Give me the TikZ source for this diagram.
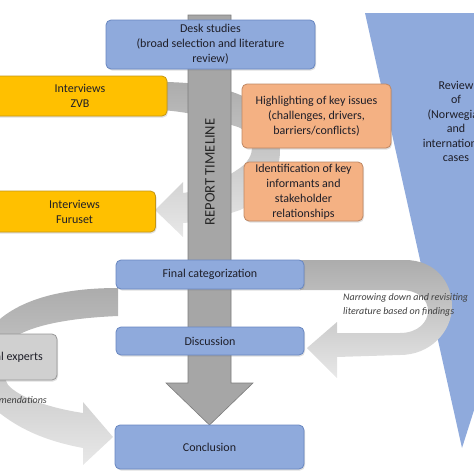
\documentclass[tikz,border=0pt]{standalone}
\usepackage{fontspec}
\setmainfont{Carlito}
\usetikzlibrary{shadows}
\definecolor{methodfill}{RGB}{143,170,220}
\definecolor{methodline}{RGB}{104,134,192}
\definecolor{interfill}{RGB}{255,192,0}
\definecolor{interline}{RGB}{196,150,20}
\definecolor{issuefill}{RGB}{244,177,131}
\definecolor{issueline}{RGB}{190,135,100}
\definecolor{expertfill}{RGB}{208,208,208}
\definecolor{expertline}{RGB}{150,150,150}
\definecolor{barfill}{RGB}{166,166,166}
\definecolor{barline}{RGB}{125,125,125}
\definecolor{textdark}{RGB}{30,30,40}
\tikzstyle{panel}    = [rectangle, rounded corners=5pt, line width=0.8pt, align=center, inner sep=1pt, text=textdark, font=\fontsize{12}{15}\selectfont, drop shadow={opacity=0.25, shadow xshift=1pt, shadow yshift=-1.5pt}]
\tikzstyle{method}   = [panel, draw=methodline, fill=methodfill]
\tikzstyle{interview} = [panel, draw=interline, fill=interfill]
\tikzstyle{issue}    = [panel, draw=issueline, fill=issuefill]
\tikzstyle{expert}   = [panel, draw=expertline, fill=expertfill]
\tikzstyle{loopband} = [draw=none, top color=gray!65, bottom color=gray!18]
\tikzstyle{remark}   = [font=\fontsize{10}{13.5}\selectfont\itshape, text=black!75, inner sep=0pt, align=left]

\begin{document}
\begin{tikzpicture}[x=1pt, y=-1pt]
    \useasboundingbox (0,0) rectangle (474,474);
    \clip (0,0) rectangle (474,474);

    % funnel of reviewed cases
    \fill[methodfill] (365,13) -- (600,13) -- (462,448) -- cycle;
    \node[text=textdark, align=center, font=\fontsize{12}{14.5}\selectfont] (cases) at (456,121.5)
        {Review\\of\\(Norwegian\\and\\international)\\cases};

    % feedback loops
    \path[loopband] (300,260) -- (405,260) .. controls (435,260) and (452,282) .. (452,306)
        .. controls (452,332) and (430,355) .. (400,355) -- (337,357) -- (337,378) -- (307,348)
        -- (337,322) -- (337,333) -- (400,333) .. controls (418,333) and (428,322) .. (428,311)
        .. controls (428,299) and (418,290) .. (400,290) -- (300,290) -- cycle;
    \path[loopband] (118,288) .. controls (60,288) and (10,300) .. (-15,335)
        .. controls (-35,365) and (-30,390) .. (-15,400) .. controls (10,425) and (40,440) .. (83,448)
        -- (83,465) -- (113,437) -- (83,402) -- (83,413) .. controls (50,408) and (20,398) .. (8,385)
        .. controls (0,370) and (0,350) .. (10,340) .. controls (30,325) and (70,318) .. (118,316) -- cycle;
    \path[loopband] (160,82) .. controls (200,82) and (225,88) .. (245,97)
        .. controls (268,110) and (280,130) .. (280,150) .. controls (280,180) and (262,200) .. (240,210)
        .. controls (220,217) and (200,222) .. (183,223) -- (183,237) -- (155,210) -- (183,182) -- (183,193)
        .. controls (205,190) and (225,178) .. (240,168) .. controls (248,162) and (252,155) .. (252,148)
        .. controls (252,138) and (246,130) .. (238,127) .. controls (215,120) and (195,112) .. (160,110) -- cycle;

    % report timeline
    \filldraw[fill=barfill, draw=barline, line width=0.6pt] (188,15) -- (231,15) -- (231,383) -- (253,383)
        -- (209.5,425) -- (166,383) -- (188,383) -- cycle;
    \node[rotate=90, text=black!85, font=\fontsize{14.5}{16}\selectfont] (timeline) at (210,172) {REPORT TIMELINE};

    % steps
    \node[method, minimum width=209pt, minimum height=49pt] (desk) at (210.5,44.5)
        {Desk studies\\(broad selection and literature\\review)};
    \node[interview, minimum width=174pt, minimum height=40pt] (zvb) at (80,96) {Interviews\\ZVB};
    \node[interview, minimum width=162pt, minimum height=41pt] (furuset) at (74.5,211.5) {Interviews\\Furuset};
    \node[issue, minimum width=149pt, minimum height=64pt] (issues) at (316.5,116)
        {Highlighting of key issues\\(challenges, drivers,\\barriers/conflicts)};
    \node[issue, minimum width=119pt, minimum height=59pt] (informants) at (303.5,191.5)
        {Identification of key\\informants and\\stakeholder\\relationships};
    \node[method, minimum width=188pt, minimum height=29pt] (final) at (210,274.5) {Final categorization};
    \node[method, minimum width=188pt, minimum height=28pt] (discussion) at (210,341) {Discussion};
    \node[method, minimum width=189pt, minimum height=44pt] (conclusion) at (209.5,447) {Conclusion};
    \node[expert, minimum width=92pt, minimum height=46pt] (experts) at (11,357) {Local experts};

    % loop labels
    \node[remark, anchor=west] (narrowing) at (343,305)
        {Narrowing down and revisiting\\literature based on findings};
    \node[remark, anchor=east] (recommend) at (47,400) {Recommendations};
\end{tikzpicture}
\end{document}
